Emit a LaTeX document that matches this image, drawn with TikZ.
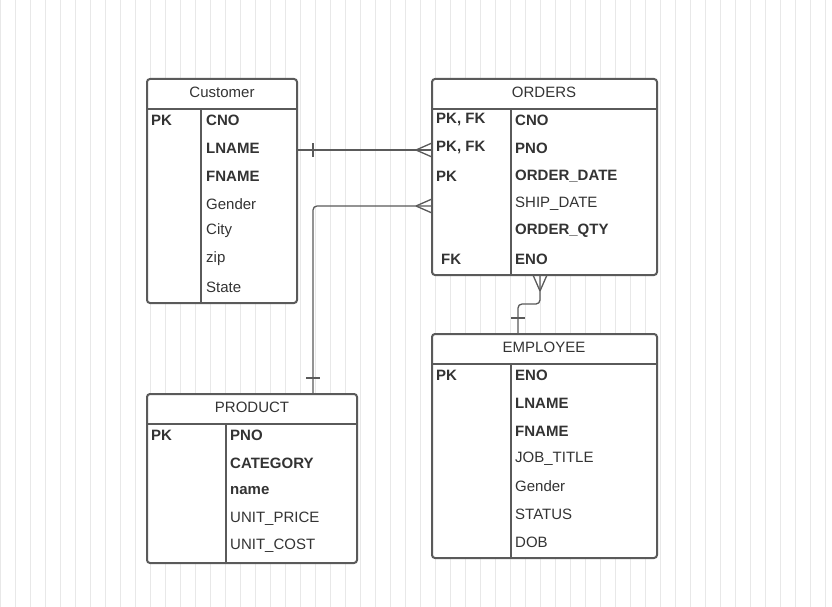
\documentclass[tikz,border=0pt]{standalone}
\usepackage{fontspec}
\setmainfont{Liberation Sans}
\begin{document}
\begin{tikzpicture}[x=1pt,y=-1pt,
  tb/.style={draw=lc,line width=2pt,rounded corners=3pt},
  ln/.style={draw=lc,line width=1.3pt},
  lbl/.style={anchor=west,inner sep=0pt,text=tc,font=\fontsize{15}{18}\selectfont},
  bl/.style={lbl,font=\fontsize{15}{18}\selectfont\bfseries},
  hd/.style={inner sep=0pt,text=tc,font=\fontsize{15}{18}\selectfont}]
\definecolor{lc}{HTML}{5A5A5A}
\definecolor{tc}{HTML}{333333}
\definecolor{gr}{HTML}{E8E8E8}
\fill[white] (0,0) rectangle (832,607);
\useasboundingbox (0,0) rectangle (832,607);
\draw[gr,line width=0.6pt] (0,0) grid[step=15] (832,607);
% Customer
\draw[tb,fill=white] (147,79) rectangle (297,303);
\draw[ln,line width=2pt] (147,109)--(297,109) (201,109)--(201,303);
\node[hd] (ch) at (222,92) {Customer};
\node[bl] (c1k) at (151,120) {PK};
\node[bl] (c1) at (206,120) {CNO};
\node[bl] (c2) at (206,148) {LNAME};
\node[bl] (c3) at (206,176) {FNAME};
\node[lbl] (c4) at (206,204) {Gender};
\node[lbl] (c5) at (206,231) {City};
\node[lbl] (c6) at (206,259) {zip};
\node[lbl] (c7) at (206,287) {State};
% Orders
\draw[tb,fill=white] (432,79) rectangle (657,275);
\draw[ln,line width=2pt] (432,109)--(657,109) (511,109)--(511,275);
\node[hd] (oh) at (544,92) {ORDERS};
\node[bl] at (436,120) {PK, FK};
\node[bl] at (436,148) {PK, FK};
\node[bl] at (436,176) {PK};
\node[bl] at (441,259) {FK};
\node[bl] (o1) at (515,120) {CNO};
\node[bl] (o2) at (515,148) {PNO};
\node[bl] (o3) at (515,176) {ORDER\_DATE};
\node[lbl] (o4) at (515,204) {SHIP\_DATE};
\node[bl] (o5) at (515,231) {ORDER\_QTY};
\node[bl] (o6) at (515,259) {ENO};
% Employee
\draw[tb,fill=white] (432,334) rectangle (657,558);
\draw[ln,line width=2pt] (432,364)--(657,364) (511,364)--(511,558);
\node[hd] (eh) at (544,347) {EMPLOYEE};
\node[bl] at (436,375) {PK};
\node[bl] at (515,375) {ENO};
\node[bl] at (515,403) {LNAME};
\node[bl] at (515,431) {FNAME};
\node[lbl] at (515,459) {JOB\_TITLE};
\node[lbl] at (515,486) {Gender};
\node[lbl] at (515,514) {STATUS};
\node[lbl] at (515,542) {DOB};
% Product
\draw[tb,fill=white] (147,394) rectangle (357,563);
\draw[ln,line width=2pt] (147,424)--(357,424) (226,424)--(226,563);
\node[hd] (ph) at (252,407) {PRODUCT};
\node[bl] at (151,435) {PK};
\node[bl] at (230,435) {PNO};
\node[bl] at (230,463) {CATEGORY};
\node[bl] at (230,491) {name};
\node[lbl] at (230,519) {UNIT\_PRICE};
\node[lbl] at (230,546) {UNIT\_COST};
% connectors
\coordinate (a1) at (297,150); \coordinate (a2) at (432,150);
\draw[ln] (a1)--(a2);
\draw[ln] (313,143)--(313,157);
\draw[ln] (416,150)--(432,143) (416,150)--(432,157);
\coordinate (b1) at (313,394); \coordinate (b2) at (432,206);
\draw[ln,rounded corners=4pt] (b1)--(313,206)--(b2);
\draw[ln] (306,378)--(320,378);
\draw[ln] (416,206)--(432,199) (416,206)--(432,213);
\coordinate (d1) at (518,334); \coordinate (d2) at (540,275);
\draw[ln,rounded corners=4pt] (d1)--(518,304)--(540,304)--(d2);
\draw[ln] (511,318)--(525,318);
\draw[ln] (540,291)--(533,275) (540,291)--(547,275);
\end{tikzpicture}
\end{document}
